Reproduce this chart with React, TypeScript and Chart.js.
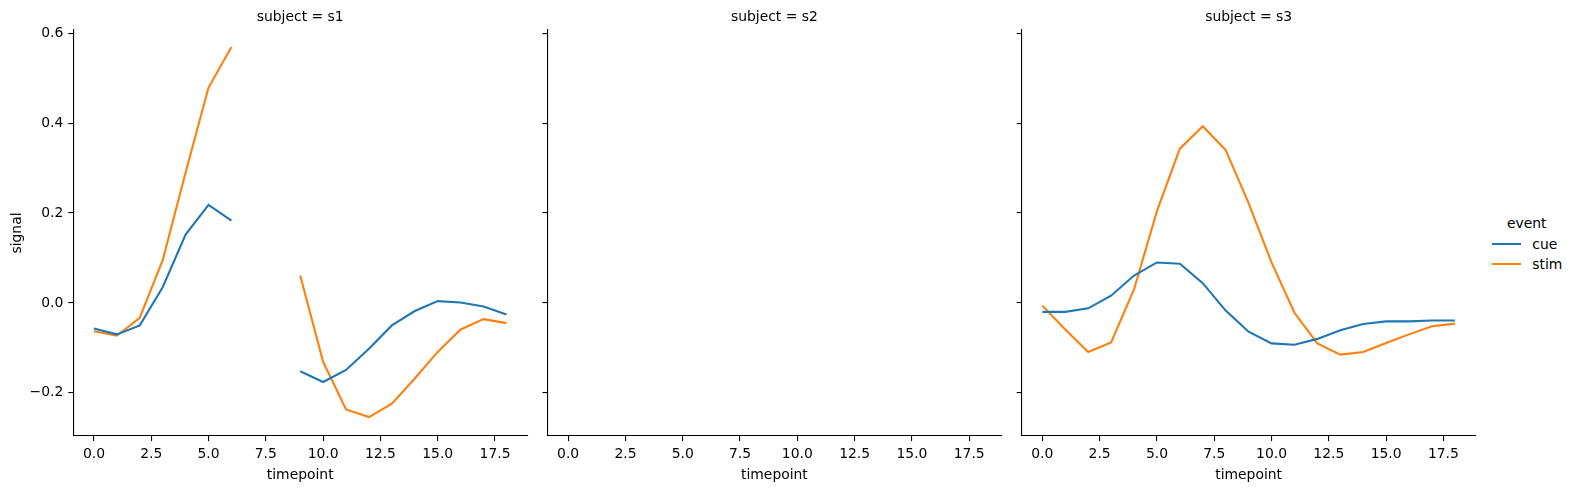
import React, { useEffect, useRef } from "react";
import { Chart, registerables } from "chart.js";

Chart.register(...registerables);

const TIMEPOINTS = [0, 1, 2, 3, 4, 5, 6, 7, 8, 9, 10, 11, 12, 13, 14, 15, 16, 17, 18];
const SUBJECTS = ["s1", "s2", "s3"];
const EVENTS = ["cue", "stim"];
const COLORS = ["#1f77b4", "#ff7f0e"];

const S1_CUE = [-0.057, -0.07, -0.05, 0.035, 0.152, 0.218, 0.183, null, null, -0.152, -0.176, -0.149, -0.102, -0.05, -0.018, 0.004, 0.001, -0.008, -0.026];
const S1_STIM = [-0.063, -0.073, -0.033, 0.095, 0.29, 0.479, 0.569, null, null, 0.061, -0.131, -0.237, -0.254, -0.224, -0.168, -0.109, -0.059, -0.036, -0.045];
const S2_CUE: (number | null)[] = [];
const S2_STIM: (number | null)[] = [];
const S3_CUE = [-0.02, -0.02, -0.012, 0.016, 0.061, 0.09, 0.087, 0.044, -0.017, -0.064, -0.09, -0.093, -0.08, -0.061, -0.047, -0.041, -0.041, -0.039, -0.039];
const S3_STIM = [-0.006, -0.059, -0.109, -0.088, 0.03, 0.204, 0.343, 0.393, 0.34, 0.222, 0.09, -0.022, -0.09, -0.115, -0.109, -0.089, -0.07, -0.052, -0.046];

const SERIES = [
  [S1_CUE, S1_STIM],
  [S2_CUE, S2_STIM],
  [S3_CUE, S3_STIM],
];

const X_TICKS = [0, 2.5, 5, 7.5, 10, 12.5, 15, 17.5];
const Y_TICKS = [-0.2, 0, 0.2, 0.4, 0.6];

const FONT = "'DejaVu Sans', sans-serif";
const FS = 13.9;

const PANEL_LEFT = [73.3, 547.5, 1021.7];
const PANEL_W = 453.8;
const CANVAS_LEFT = [0, 474, 948];
const CANVAS_W = 540;
const H = 490;

function fmtY(v: number) {
  const s = Math.abs(v).toFixed(1);
  return v < -1e-9 ? "\u2212" + s : s;
}

function Panel({ idx }: { idx: number }) {
  const ref = useRef<HTMLCanvasElement>(null);
  useEffect(() => {
    const cv = ref.current!;
    const areaLeft = PANEL_LEFT[idx] - CANVAS_LEFT[idx];
    const padRight = CANVAS_W - (areaLeft + PANEL_W);
    const datasets = EVENTS.map((ev, k) => ({
      label: ev,
      data: SERIES[idx][k].length
        ? TIMEPOINTS.map((t, i) => ({ x: t, y: SERIES[idx][k][i] }))
        : [],
      borderColor: COLORS[k],
      backgroundColor: COLORS[k],
      borderWidth: 2.1,
      pointRadius: 0,
      spanGaps: false,
      tension: 0,
    }));
    const chart = new Chart(cv, {
      type: "line",
      data: { datasets: datasets as any },
      options: {
        animation: false,
        responsive: false,
        devicePixelRatio: 1,
        layout: { padding: { left: 5, right: padRight, top: 30, bottom: 1.8 } },
        plugins: { legend: { display: false }, tooltip: { enabled: false } },
        scales: {
          x: {
            type: "linear",
            min: -0.9,
            max: 18.9,
            afterBuildTicks: (s: any) => {
              s.ticks = X_TICKS.map((v) => ({ value: v }));
            },
            afterFit: (s: any) => {
              s.height = 52.2;
            },
            ticks: {
              callback: (v: any) => Number(v).toFixed(1),
              font: { family: FONT, size: FS },
              color: "#000",
              padding: 5,
              maxRotation: 0,
              autoSkip: false,
            },
            grid: { drawOnChartArea: false, tickLength: 5, color: "#000", lineWidth: 1.1 },
            border: { display: true, color: "#000", width: 1.1 },
            title: {
              display: true,
              text: "timepoint",
              font: { family: FONT, size: FS },
              color: "#000",
              padding: { top: 4, bottom: 4 },
            },
          },
          y: {
            type: "linear",
            min: -0.296,
            max: 0.607,
            afterBuildTicks: (s: any) => {
              s.ticks = Y_TICKS.map((v) => ({ value: v }));
            },
            afterFit: (s: any) => {
              s.width = areaLeft - 5;
            },
            ticks: {
              callback: (v: any) => (idx === 0 ? fmtY(Number(v)) : ""),
              font: { family: FONT, size: FS },
              color: "#000",
              padding: 5,
              autoSkip: false,
            },
            grid: { drawOnChartArea: false, tickLength: 5, color: "#000", lineWidth: 1.1 },
            border: { display: true, color: "#000", width: 1.1 },
            title: {
              display: idx === 0,
              text: "signal",
              font: { family: FONT, size: FS },
              color: "#000",
              padding: { top: 4, bottom: 4 },
            },
          },
        },
      },
    });
    return () => chart.destroy();
  }, [idx]);
  return (
    <canvas
      ref={ref}
      width={CANVAS_W}
      height={H}
      style={{ position: "absolute", left: CANVAS_LEFT[idx], top: 0, width: CANVAS_W, height: H }}
    />
  );
}

export default function App() {
  const text: React.CSSProperties = {
    position: "absolute",
    fontFamily: FONT,
    fontSize: FS,
    color: "#000",
    whiteSpace: "nowrap",
    lineHeight: "16px",
  };
  return (
    <div style={{ position: "absolute", left: 0, top: 0, width: 1573, height: H, background: "#fff", overflow: "hidden" }}>
      {SUBJECTS.map((s, i) => (
        <Panel key={s} idx={i} />
      ))}
      {SUBJECTS.map((s, i) => (
        <div
          key={"t" + s}
          style={{ ...text, left: PANEL_LEFT[i] + PANEL_W / 2, top: 8, transform: "translateX(-50%)" }}
        >
          {"subject = " + s}
        </div>
      ))}
      <div style={{ ...text, left: 1526.7, top: 215, transform: "translateX(-50%)" }}>event</div>
      {EVENTS.map((ev, k) => (
        <React.Fragment key={ev}>
          <div
            style={{
              position: "absolute",
              left: 1492.3,
              top: 242.7 + k * 20.6,
              width: 28.4,
              height: 2,
              background: COLORS[k],
            }}
          />
          <div style={{ ...text, left: 1532.3, top: 235.7 + k * 20.6 }}>{ev}</div>
        </React.Fragment>
      ))}
    </div>
  );
}
